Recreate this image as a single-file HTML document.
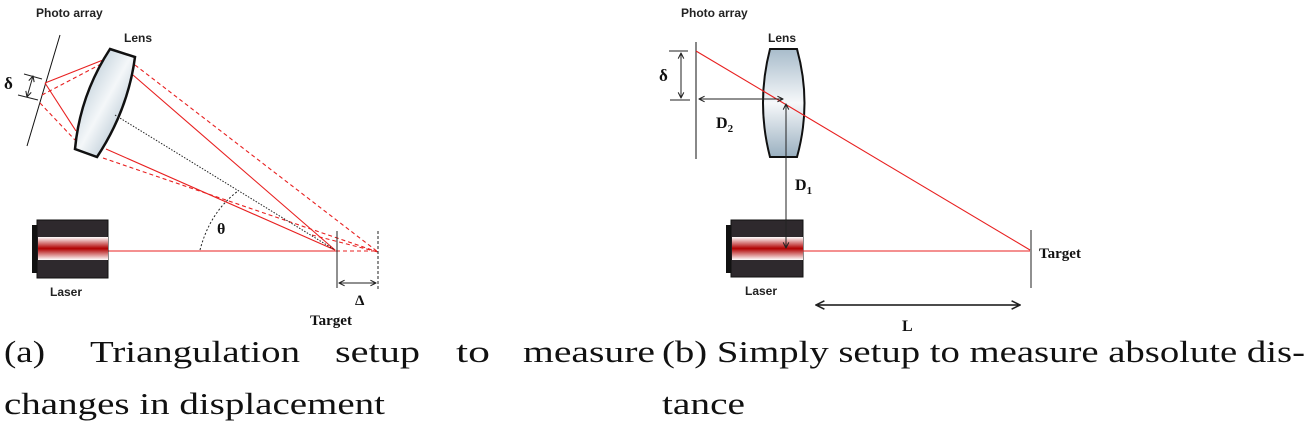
<!DOCTYPE html>
<html><head><meta charset="utf-8"><style>
html,body{margin:0;padding:0;background:#fff;}
svg{display:block;}
.s{font-family:"Liberation Sans",sans-serif;font-weight:bold;font-size:12px;fill:#222;}
.r{font-family:"Liberation Serif",serif;font-weight:bold;fill:#111;}
.c{font-family:"Liberation Serif",serif;font-size:31px;fill:#111;}
</style></head><body>
<svg width="1310" height="439" viewBox="0 0 1310 439" xmlns="http://www.w3.org/2000/svg">
<defs>
<linearGradient id="lg" x1="0" y1="0" x2="1" y2="1">
<stop offset="0" stop-color="#9fb6c6"/><stop offset="0.5" stop-color="#f4f7f9"/><stop offset="1" stop-color="#8ea7ba"/>
</linearGradient>
<linearGradient id="lg2" x1="0" y1="0" x2="0" y2="1">
<stop offset="0" stop-color="#a8bccb"/><stop offset="0.5" stop-color="#f6f8fa"/><stop offset="1" stop-color="#9ab0c0"/>
</linearGradient>
<linearGradient id="beam" x1="0" y1="0" x2="0" y2="1">
<stop offset="0" stop-color="#fff"/><stop offset="0.5" stop-color="#b00000"/><stop offset="1" stop-color="#fff"/>
</linearGradient>
<marker id="ah" viewBox="0 0 10 10" refX="9" refY="5" markerWidth="7" markerHeight="7" orient="auto-start-reverse"><path d="M1,1 L9,5 L1,9" fill="none" stroke="#222" stroke-width="1.5"/></marker>
</defs>

<!-- ===== Panel (a) ===== -->
<text class="s" x="36" y="17">Photo array</text>
<text class="s" x="124" y="42">Lens</text>
<line x1="60" y1="35" x2="27" y2="146" stroke="#111" stroke-width="1"/>
<line x1="24" y1="74" x2="42" y2="79" stroke="#222"/>
<line x1="18" y1="95" x2="38" y2="100" stroke="#222"/>
<line x1="33" y1="76" x2="27" y2="97" stroke="#222" marker-start="url(#ah)" marker-end="url(#ah)"/>
<text class="r" x="4" y="89" font-size="17">δ</text>
<g stroke="#e82020" stroke-width="1.1" fill="none">
<line x1="45" y1="83" x2="103" y2="60"/>
<line x1="45" y1="83" x2="76" y2="131"/>
<line x1="133" y1="75" x2="335" y2="250"/>
<line x1="106" y1="149" x2="335" y2="250"/>
<line x1="108" y1="251" x2="336" y2="251"/>
</g>
<g stroke="#e82020" stroke-width="1.1" fill="none" stroke-dasharray="4,3">
<line x1="42" y1="95" x2="101" y2="64"/>
<line x1="40" y1="103" x2="75" y2="140"/>
<line x1="135" y1="65" x2="378" y2="252"/>
<line x1="103" y1="158" x2="378" y2="252"/>
<line x1="336" y1="251" x2="378" y2="251"/>
<line x1="312" y1="235" x2="378" y2="252"/>
</g>
<path d="M110,49 L135,57 Q128,110 97,157 L75,149 Q80,95 110,49 Z" fill="url(#lg)" stroke="#111" stroke-width="2.5"/>
<line x1="115" y1="115" x2="335" y2="250" stroke="#222" stroke-width="1" stroke-dasharray="1.5,1.5"/>
<path d="M200,250 Q210,212 238,191" fill="none" stroke="#222" stroke-dasharray="2,2"/>
<text class="r" x="217" y="234" font-size="16">θ</text>
<rect x="32" y="225" width="6" height="48" fill="#111"/>
<rect x="37" y="220" width="71" height="58" fill="#2e292d" stroke="#111"/>
<rect x="38" y="237" width="70" height="23" fill="url(#beam)"/>
<text class="s" x="50" y="296">Laser</text>
<line x1="337" y1="231" x2="337" y2="288" stroke="#222"/>
<line x1="378" y1="231" x2="378" y2="290" stroke="#222" stroke-dasharray="3,2"/>
<line x1="339" y1="283" x2="376" y2="283" stroke="#222" marker-start="url(#ah)" marker-end="url(#ah)"/>
<text class="r" x="355" y="305" font-size="15">Δ</text>
<text class="r" x="310" y="325" font-size="15">Target</text>

<!-- ===== Panel (b) ===== -->
<text class="s" x="681" y="17">Photo array</text>
<text class="s" x="768" y="42">Lens</text>
<line x1="696" y1="42" x2="696" y2="159" stroke="#111"/>
<line x1="669" y1="51" x2="688" y2="51" stroke="#222"/>
<line x1="670" y1="100" x2="690" y2="100" stroke="#222"/>
<line x1="681" y1="53" x2="681" y2="98" stroke="#222" marker-start="url(#ah)" marker-end="url(#ah)"/>
<text class="r" x="659" y="81" font-size="17">δ</text>
<path d="M770,49 L797,49 Q812,103 797,157 L770,157 Q756,103 770,49 Z" fill="url(#lg2)" stroke="#111" stroke-width="2"/>
<line x1="696" y1="51" x2="1030" y2="250" stroke="#e82020" stroke-width="1.1"/>
<line x1="699" y1="99" x2="783" y2="99" stroke="#222" marker-start="url(#ah)" marker-end="url(#ah)"/>
<text class="r" x="716" y="128" font-size="16">D<tspan font-size="11" dy="4">2</tspan></text>
<rect x="726" y="225" width="6" height="48" fill="#111"/>
<rect x="731" y="220" width="72" height="57" fill="#2e292d" stroke="#111"/>
<rect x="732" y="237" width="71" height="23" fill="url(#beam)"/>
<line x1="786" y1="104" x2="786" y2="248" stroke="#222" marker-start="url(#ah)" marker-end="url(#ah)"/>
<text class="r" x="795" y="190" font-size="16">D<tspan font-size="11" dy="4">1</tspan></text>
<text class="s" x="745" y="295">Laser</text>
<line x1="803" y1="251" x2="1030" y2="251" stroke="#e82020" stroke-width="1.1"/>
<line x1="1031" y1="230" x2="1031" y2="288" stroke="#222"/>
<text class="r" x="1039" y="258" font-size="15">Target</text>
<line x1="816" y1="305" x2="1020" y2="305" stroke="#111" stroke-width="1.5" marker-start="url(#ah)" marker-end="url(#ah)"/>
<text class="r" x="902" y="331" font-size="16">L</text>

<!-- captions -->
<text class="c" x="4" y="362" textLength="41" lengthAdjust="spacingAndGlyphs">(a)</text>
<text class="c" x="90" y="362" textLength="210" lengthAdjust="spacingAndGlyphs">Triangulation</text>
<text class="c" x="335" y="362" textLength="85" lengthAdjust="spacingAndGlyphs">setup</text>
<text class="c" x="456" y="362" textLength="34" lengthAdjust="spacingAndGlyphs">to</text>
<text class="c" x="523" y="362" textLength="132" lengthAdjust="spacingAndGlyphs">measure</text>
<text class="c" x="4" y="414" textLength="381" lengthAdjust="spacingAndGlyphs">changes in displacement</text>
<text class="c" x="662" y="362" textLength="643" lengthAdjust="spacingAndGlyphs">(b) Simply setup to measure absolute dis-</text>
<text class="c" x="662" y="414" textLength="83" lengthAdjust="spacingAndGlyphs">tance</text>
</svg>
</body></html>
